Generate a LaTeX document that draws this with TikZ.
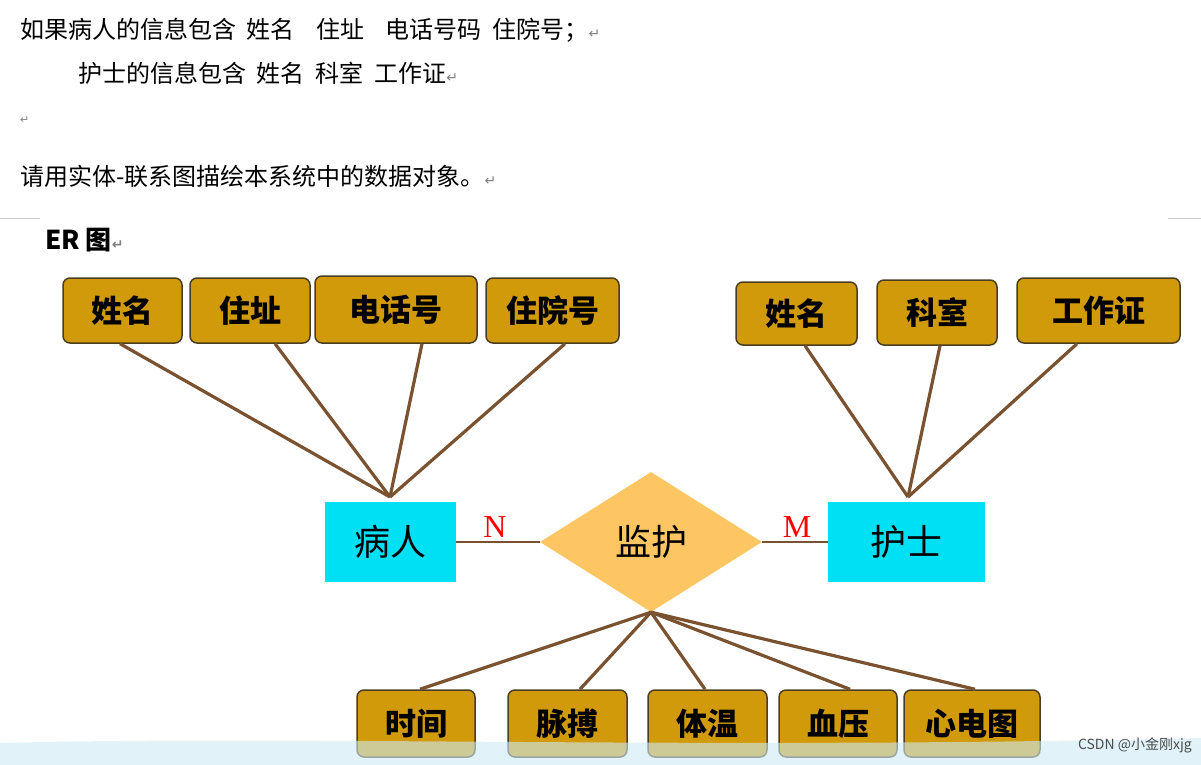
\documentclass[tikz,border=0pt]{standalone}
\usepackage{fontspec}
\setmainfont{Noto Sans CJK SC}
\newfontfamily\serifcjk{Liberation Serif}
\newfontfamily\symf{DejaVu Sans}
\newcommand{\retmark}[1][14]{\textcolor{gray}{\symf\fontsize{#1}{#1}\selectfont ↵}}
\usetikzlibrary{shapes.geometric}
\definecolor{attr}{HTML}{D19A0A}
\definecolor{attrb}{HTML}{4A3E22}
\definecolor{link}{HTML}{7A5230}
\definecolor{ent}{HTML}{00E0F4}
\definecolor{rel}{HTML}{FDC663}
\definecolor{wave}{HTML}{CDEBF5}
\begin{document}
\begin{tikzpicture}[x=1pt,y=-1pt,
  attrbox/.style={draw=attrb,line width=1.5pt,fill=attr,rounded corners=7pt,inner sep=0pt,font=\fontsize{31}{31}\selectfont\bfseries},
  entbox/.style={fill=ent,inner sep=0pt,font=\fontsize{36}{36}\selectfont},
  conn/.style={draw=link,line width=3.2pt},
  card/.style={text=red,font=\serifcjk\fontsize{32}{32}\selectfont},
  txt/.style={anchor=west,inner sep=0pt,font=\fontsize{24}{24}\selectfont}]
\useasboundingbox (0,0) rectangle (1201,765);
\fill[white] (0,0) rectangle (1201,765);
% top text
\node[txt] (t1) at (20,30) {如果病人的信息包含\ \ 姓名\ \ \ \ 住址\ \ \ \ 电话号码\ \ 住院号；\retmark};
\node[txt] (t2) at (78,73) {护士的信息包含\ \ 姓名\ \ 科室\ \ 工作证\retmark};
\node[txt] (t3) at (20,120) {\retmark[11]};
\node[txt] (t4) at (20,176) {请用实体-联系图描绘本系统中的数据对象。\retmark};
\draw[gray!40] (0,218) -- (40,218);
\draw[gray!40] (1168,218) -- (1201,218);
\node[txt,font=\fontsize{26}{26}\selectfont\bfseries] (er) at (45,240) {ER 图\retmark};
% attributes patient
\node[attrbox,minimum width=119pt,minimum height=65pt] (p1) at (122.5,310.5) {姓名};
\node[attrbox,minimum width=120pt,minimum height=65pt] (p2) at (250,310.5) {住址};
\node[attrbox,minimum width=162pt,minimum height=67pt] (p3) at (396,309.5) {电话号};
\node[attrbox,minimum width=133pt,minimum height=65pt] (p4) at (552.5,310.5) {住院号};
% attributes nurse
\node[attrbox,minimum width=121pt,minimum height=63pt] (n1) at (796.5,313.5) {姓名};
\node[attrbox,minimum width=120pt,minimum height=65pt] (n2) at (937,312.5) {科室};
\node[attrbox,minimum width=163pt,minimum height=65pt] (n3) at (1098.5,310.5) {工作证};
% entities
\node[entbox,minimum width=131pt,minimum height=80pt] (pat) at (390.5,542) {病人};
\node[entbox,minimum width=157pt,minimum height=80pt] (nur) at (906.5,542) {护士};
\node[diamond,fill=rel,inner sep=0pt,minimum width=222pt,minimum height=140pt,font=\fontsize{36}{36}\selectfont] (mon) at (651,542) {监护};
\coordinate (pj) at (390,497);
\coordinate (nj) at (908,497);
\foreach \a/\x in {p1/120,p2/275,p3/422,p4/565} \draw[conn] (\a.south -| \x,0) -- (pj);
\foreach \a/\x in {n1/805,n2/940,n3/1077} \draw[conn] (\a.south -| \x,0) -- (nj);
\draw[conn,line width=2.4pt] (pat.east) -- (mon.west);
\draw[conn,line width=2.4pt] (mon.east) -- (nur.west);
\node[card] (N) at (495,527) {N};
\node[card] (M) at (797,527) {M};
% bottom attributes
\node[attrbox,minimum width=118pt,minimum height=67pt] (b1) at (416,723.5) {时间};
\node[attrbox,minimum width=119pt,minimum height=67pt] (b2) at (567.5,723.5) {脉搏};
\node[attrbox,minimum width=119pt,minimum height=67pt] (b3) at (707.5,723.5) {体温};
\node[attrbox,minimum width=118pt,minimum height=67pt] (b4) at (838,723.5) {血压};
\node[attrbox,minimum width=136pt,minimum height=67pt] (b5) at (972,723.5) {心电图};
\foreach \a/\x in {b1/420,b2/580,b3/705,b4/850,b5/975} \draw[conn] (mon.south) -- (\a.north -| \x,0);
% bottom wave band
\fill[wave,opacity=0.6] (0,743) .. controls (300,735) and (700,750) .. (1201,738) -- (1201,765) -- (0,765) -- cycle;
\node[anchor=east,inner sep=0pt,text=gray!60!black,font=\fontsize{14}{14}\selectfont] (wm) at (1192,745) {CSDN @小金刚xjg};
\end{tikzpicture}
\end{document}
